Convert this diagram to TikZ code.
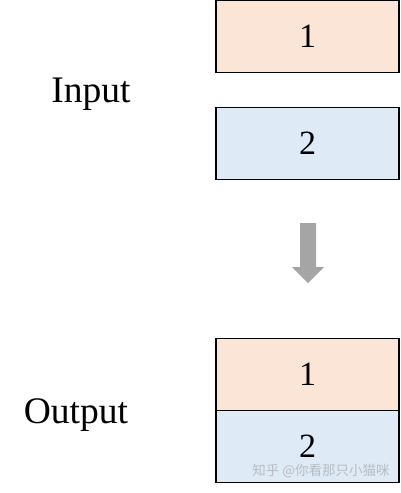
\documentclass[tikz,border=0pt]{standalone}
\usepackage{fontspec}
\setmainfont{Liberation Serif}
\newfontfamily\cjk{Noto Sans CJK SC}
\definecolor{peach}{HTML}{FBE5D6}
\definecolor{lblue}{HTML}{DEEBF7}
\definecolor{agray}{HTML}{A5A5A5}
\definecolor{wmgray}{HTML}{B8BCC2}
\begin{document}
\begin{tikzpicture}[x=1pt,y=-1pt,
  cell/.style={draw=black,line width=1.6pt,minimum width=183pt,minimum height=72pt,inner sep=0pt,font=\fontsize{34}{36}\selectfont},
  lbl/.style={font=\fontsize{37.5}{40}\selectfont,inner sep=0pt,anchor=base}]
\path[fill=white] (0,0) rectangle (400,493);
\useasboundingbox (0,0) rectangle (400,493);
\node[cell,fill=peach] (in1) at (307.5,36.5) {1};
\node[cell,fill=lblue] (in2) at (307.5,143.5) {2};
\node[cell,fill=peach] (out1) at (307.5,374.5) {1};
\node[cell,fill=lblue] (out2) at (307.5,446.5) {2};
\node[lbl] (inlbl) at (91,102) {Input};
\node[lbl] (outlbl) at (76,423) {Output};
\fill[agray] (300,223) -- (316,223) -- (316,267) -- (324,267) -- (308,283) -- (292,267) -- (300,267) -- cycle;
\node[font=\cjk\fontsize{13.5}{14}\selectfont,text=wmgray,inner sep=0pt] (wm) at (321,471) {知乎 @你看那只小猫咪};
\end{tikzpicture}
\end{document}
